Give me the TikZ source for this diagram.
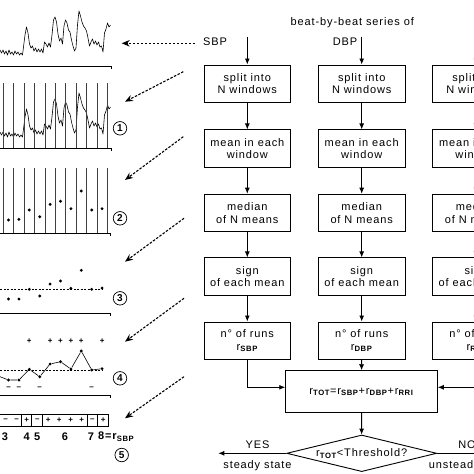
\documentclass[tikz,border=0pt]{standalone}
\usepackage{fontspec}
\setmainfont[LetterSpace=8]{Liberation Sans}
\usetikzlibrary{arrows.meta,shapes.geometric,positioning}

\newcommand{\sbx}[1]{\textsubscript{\bfseries #1}}

\tikzset{
  pics/bpwave/.style={code={
    \draw[line width=0.6pt, line join=round] plot coordinates {(0,50) (1.5,53) (3,50) (4.5,54) (6,51) (7.5,55) (9,50) (10.5,54) (12,52) (13.5,55) (15,51) (16.5,54) (18,52) (19.5,55) (21,53) (22.5,55) (23.5,47) (25,35) (26.5,27) (28,33) (29.5,44) (31,48) (32.5,46) (34,51) (35.5,48) (37,52) (38.5,49) (40,52) (41.5,49) (43,53) (44.5,42) (46,44) (47.5,47) (49,43) (50.5,47) (52,35) (53.5,20) (55,17) (56.5,22) (58,34) (59.5,41) (61,38) (62.5,44) (64,26) (65.5,20) (67,23) (68.5,30) (70,32) (71.5,40) (73,46) (74.5,51) (76,48) (77.5,25) (79,11) (80.5,16) (82,22) (83.5,26) (85,28) (86.5,31) (88,38) (89.5,46) (91,42) (92.5,39) (94,44) (95.5,41) (97,45) (98.5,42) (100,47) (101.5,46) (103,52) (104.5,33) (106,29) (107.5,23) (109,27) (110.5,25)};
  }}
}

\begin{document}
\begin{tikzpicture}[x=1pt, y=-1pt,
    stepbox/.style={draw, line width=0.9pt, minimum width=86.7pt, minimum height=37.7pt, inner sep=0pt, align=center, font=\fontsize{11}{12.5}\selectfont},
    decision/.style={draw, line width=0.9pt, diamond, aspect=4.1, minimum width=150pt, minimum height=36.6pt, inner sep=0pt, font=\fontsize{11}{12.5}\selectfont},
    lbl/.style={inner sep=0pt, font=\fontsize{11}{12.5}\selectfont},
    flow/.style={-{Latex[length=6pt, width=5pt]}, line width=0.9pt},
    hint/.style={-{Stealth[length=8pt, width=6.5pt]}, line width=1.1pt, dash pattern=on 2.5pt off 1.5pt},
    circnum/.style={circle, draw, line width=0.7pt, minimum size=13.5pt, inner sep=0pt, font=\fontsize{10}{10}\bfseries},
    sgn/.style={inner sep=0pt, font=\fontsize{8}{8}\bfseries},
    num/.style={inner sep=0pt, font=\fontsize{11}{12}\bfseries},
    axis/.style={line width=0.8pt},
    win/.style={line width=0.7pt, black!75},
    median/.style={line width=0.6pt, dash pattern=on 2pt off 1.5pt},
    pt/.style={fill, circle, inner sep=0pt, minimum size=3.2pt}]
  \useasboundingbox (0,0) rectangle (474,474);
  \clip (0,0) rectangle (474,474);

  % raw SBP series
  \pic at (0,0) {bpwave};
  \draw[axis] (0,66) -- (111.5,66) -- (111.5,68.5);

  % 1: N windows
  \pic at (0,82) {bpwave};
  \foreach \i in {0,...,10}
    \draw[win] ({3.3+10.4*\i},83) -- ({3.3+10.4*\i},148);
  \draw[axis] (0,148) -- (111.5,148) -- (111.5,150.5);
  \node[circnum] (c1) at (120,128.3) {1};

  % 2: window means
  \foreach \i in {0,...,10}
    \draw[win] ({3.3+10.4*\i},168) -- ({3.3+10.4*\i},233);
  \draw[axis] (0,233) -- (110.5,233) -- (110.5,235.5);
  \foreach \x/\y [count=\i] in {8.5/220,18.9/219.3,29.3/210,39.7/216.7,50.1/204.3,60.5/201.3,70.9/208.7,81.3/191,91.7/210,102.1/208.7}
    \node[pt] (m\i) at (\x,\y) {};
  \node[circnum] (c2) at (120,218.3) {2};

  % 3: median
  \draw[median] (0,289.7) -- (102,289.7);
  \foreach \x/\y [count=\i] in {8.5/299,18.9/299,29.3/289.3,39.7/296,50.1/284,60.5/281,70.9/288.3,81.3/270.3,91.7/289.3,102.1/288}
    \node[pt] (d\i) at (\x,\y) {};
  \draw[axis] (0,313) -- (110.5,313) -- (110.5,315.5);
  \node[circnum] (c3) at (120,298.3) {3};

  % 4: signs
  \draw[median] (0,370) -- (102,370);
  \foreach \x/\y [count=\i] in {8.5/380,18.9/380,29.3/369.3,39.7/376.7,50.1/364,60.5/361.7,70.9/369,81.3/351,91.7/370,102.1/368.7}
    \node[pt] (p\i) at (\x,\y) {};
  \draw[line width=0.6pt] (0,376.7) -- (p1) -- (p2) -- (p3) -- (p4) -- (p5) -- (p6) -- (p7) -- (p8) -- (p9) -- (p10);
  \foreach \x [count=\i] in {29.3,50.1,60.5,70.9,81.3,102.1}
    \node[sgn] (up\i) at (\x,340.7) {+};
  \foreach \x [count=\i] in {8.5,18.9,39.7,91.7}
    \node[sgn] (dn\i) at (\x,388.3) {--};
  \draw[axis] (0,395) -- (110.5,395) -- (110.5,397.5);
  \node[circnum] (c4) at (120,378.3) {4};

  % 5: runs
  \draw[line width=0.7pt] (-2,414) rectangle (108.3,426);
  \foreach \x in {21.7,31.7,42.3,87.3,97.7}
    \draw[line width=0.7pt] (\x,414) -- (\x,426);
  \foreach \x/\s [count=\i] in {5.7/--,16.7/--,26.7/+,37.3/--,48.3/+,59.3/+,70.7/+,81.7/+,92.3/--,103.3/+}
    \node[sgn] (sg\i) at (\x,420) {\s};
  \node[num] (r3) at (5,437) {3};
  \node[num] (r4) at (26.7,437) {4};
  \node[num] (r5) at (37.3,437) {5};
  \node[num] (r6) at (65,437) {6};
  \node[num] (r7) at (91,437) {7};
  \node[num, anchor=west] (r8) at (98,437) {8=r\sbx{SBP}};
  \node[circnum] (c5) at (121.7,455) {5};

  % dashed pointers
  \coordinate (h0) at (195,43.3);   \coordinate (h1) at (121.7,43.3);
  \coordinate (k0) at (183.3,71.7); \coordinate (k1) at (125,101.7);
  \coordinate (l0) at (183.3,136.7); \coordinate (l1) at (125,180);
  \coordinate (n0) at (184,218.3);  \coordinate (n1) at (125,261.7);
  \coordinate (q0) at (184,298.3);  \coordinate (q1) at (125,341.7);
  \coordinate (u0) at (184,376.7);  \coordinate (u1) at (125,418.3);
  \draw[hint] (h0) -- (h1);
  \draw[hint] (k0) -- (k1);
  \draw[hint] (l0) -- (l1);
  \draw[hint] (n0) -- (n1);
  \draw[hint] (q0) -- (q1);
  \draw[hint] (u0) -- (u1);

  % flow chart
  \node[lbl] (title) at (352.3,22.3) {beat-by-beat series of};
  \node[lbl] (sbp) at (215,41.7) {SBP};
  \node[lbl] (dbp) at (345,41.7) {DBP};
  \coordinate (t1) at (247.3,36.7);
  \coordinate (t2) at (361.7,36.7);
  \coordinate (t3) at (476,36.7);

  \node[stepbox] (a1) at (247.3,83.8) {split into\\N windows};
  \node[stepbox] (b1) at (247.3,148.7) {mean in each\\window};
  \node[stepbox] (c1) at (247.3,213) {median\\of N means};
  \node[stepbox] (d1) at (247.3,276.7) {sign\\of each mean};
  \node[stepbox] (e1) at (247.3,340.8) {n° of runs\\r\sbx{SBP}};

  \node[stepbox] (a2) at (361.7,83.8) {split into\\N windows};
  \node[stepbox] (b2) at (361.7,148.7) {mean in each\\window};
  \node[stepbox] (c2) at (361.7,213) {median\\of N means};
  \node[stepbox] (d2) at (361.7,276.7) {sign\\of each mean};
  \node[stepbox] (e2) at (361.7,340.8) {n° of runs\\r\sbx{DBP}};

  \node[stepbox] (a3) at (476,83.8) {split into\\N windows};
  \node[stepbox] (b3) at (476,148.7) {mean in each\\window};
  \node[stepbox] (c3) at (476,213) {median\\of N means};
  \node[stepbox] (d3) at (476,276.7) {sign\\of each mean};
  \node[stepbox] (e3) at (476,340.8) {n° of runs\\r\sbx{RRI}};

  \draw[flow] (t1) -- (a1);
  \draw[flow] (a1) -- (b1);
  \draw[flow] (b1) -- (c1);
  \draw[flow] (c1) -- (d1);
  \draw[flow] (d1) -- (e1);
  \draw[flow] (t2) -- (a2);
  \draw[flow] (a2) -- (b2);
  \draw[flow] (b2) -- (c2);
  \draw[flow] (c2) -- (d2);
  \draw[flow] (d2) -- (e2);
  \draw[flow] (t3) -- (a3);
  \draw[flow] (a3) -- (b3);
  \draw[flow] (b3) -- (c3);
  \draw[flow] (c3) -- (d3);
  \draw[flow] (d3) -- (e3);

  \node[stepbox, minimum width=151.6pt, minimum height=42pt] (tot) at (361.5,391.7) {r\sbx{TOT}=r\sbx{SBP}+r\sbx{DBP}+r\sbx{RRI}};
  \draw[flow] (e1) |- ([yshift=4.4pt]tot.west);
  \draw[flow] (e2) -- (tot);
  \draw[flow] (e3) |- ([yshift=4.4pt]tot.east);

  \node[decision] (thr) at (361.7,453.3) {r\sbx{TOT}<Threshold?};
  \draw[flow] (tot) -- (thr);
  \coordinate (yes) at (218.3,453.3);
  \coordinate (no) at (505,453.3);
  \draw[flow] (thr) -- (yes);
  \draw[flow] (thr) -- (no);
  \node[lbl] (yesl) at (257.5,445) {YES};
  \node[lbl] (steady) at (257.5,465.7) {steady state};
  \node[lbl] (nol) at (467,445) {NO};
  \node[lbl] (unsteady) at (470,465.7) {unsteady state};
\end{tikzpicture}
\end{document}
